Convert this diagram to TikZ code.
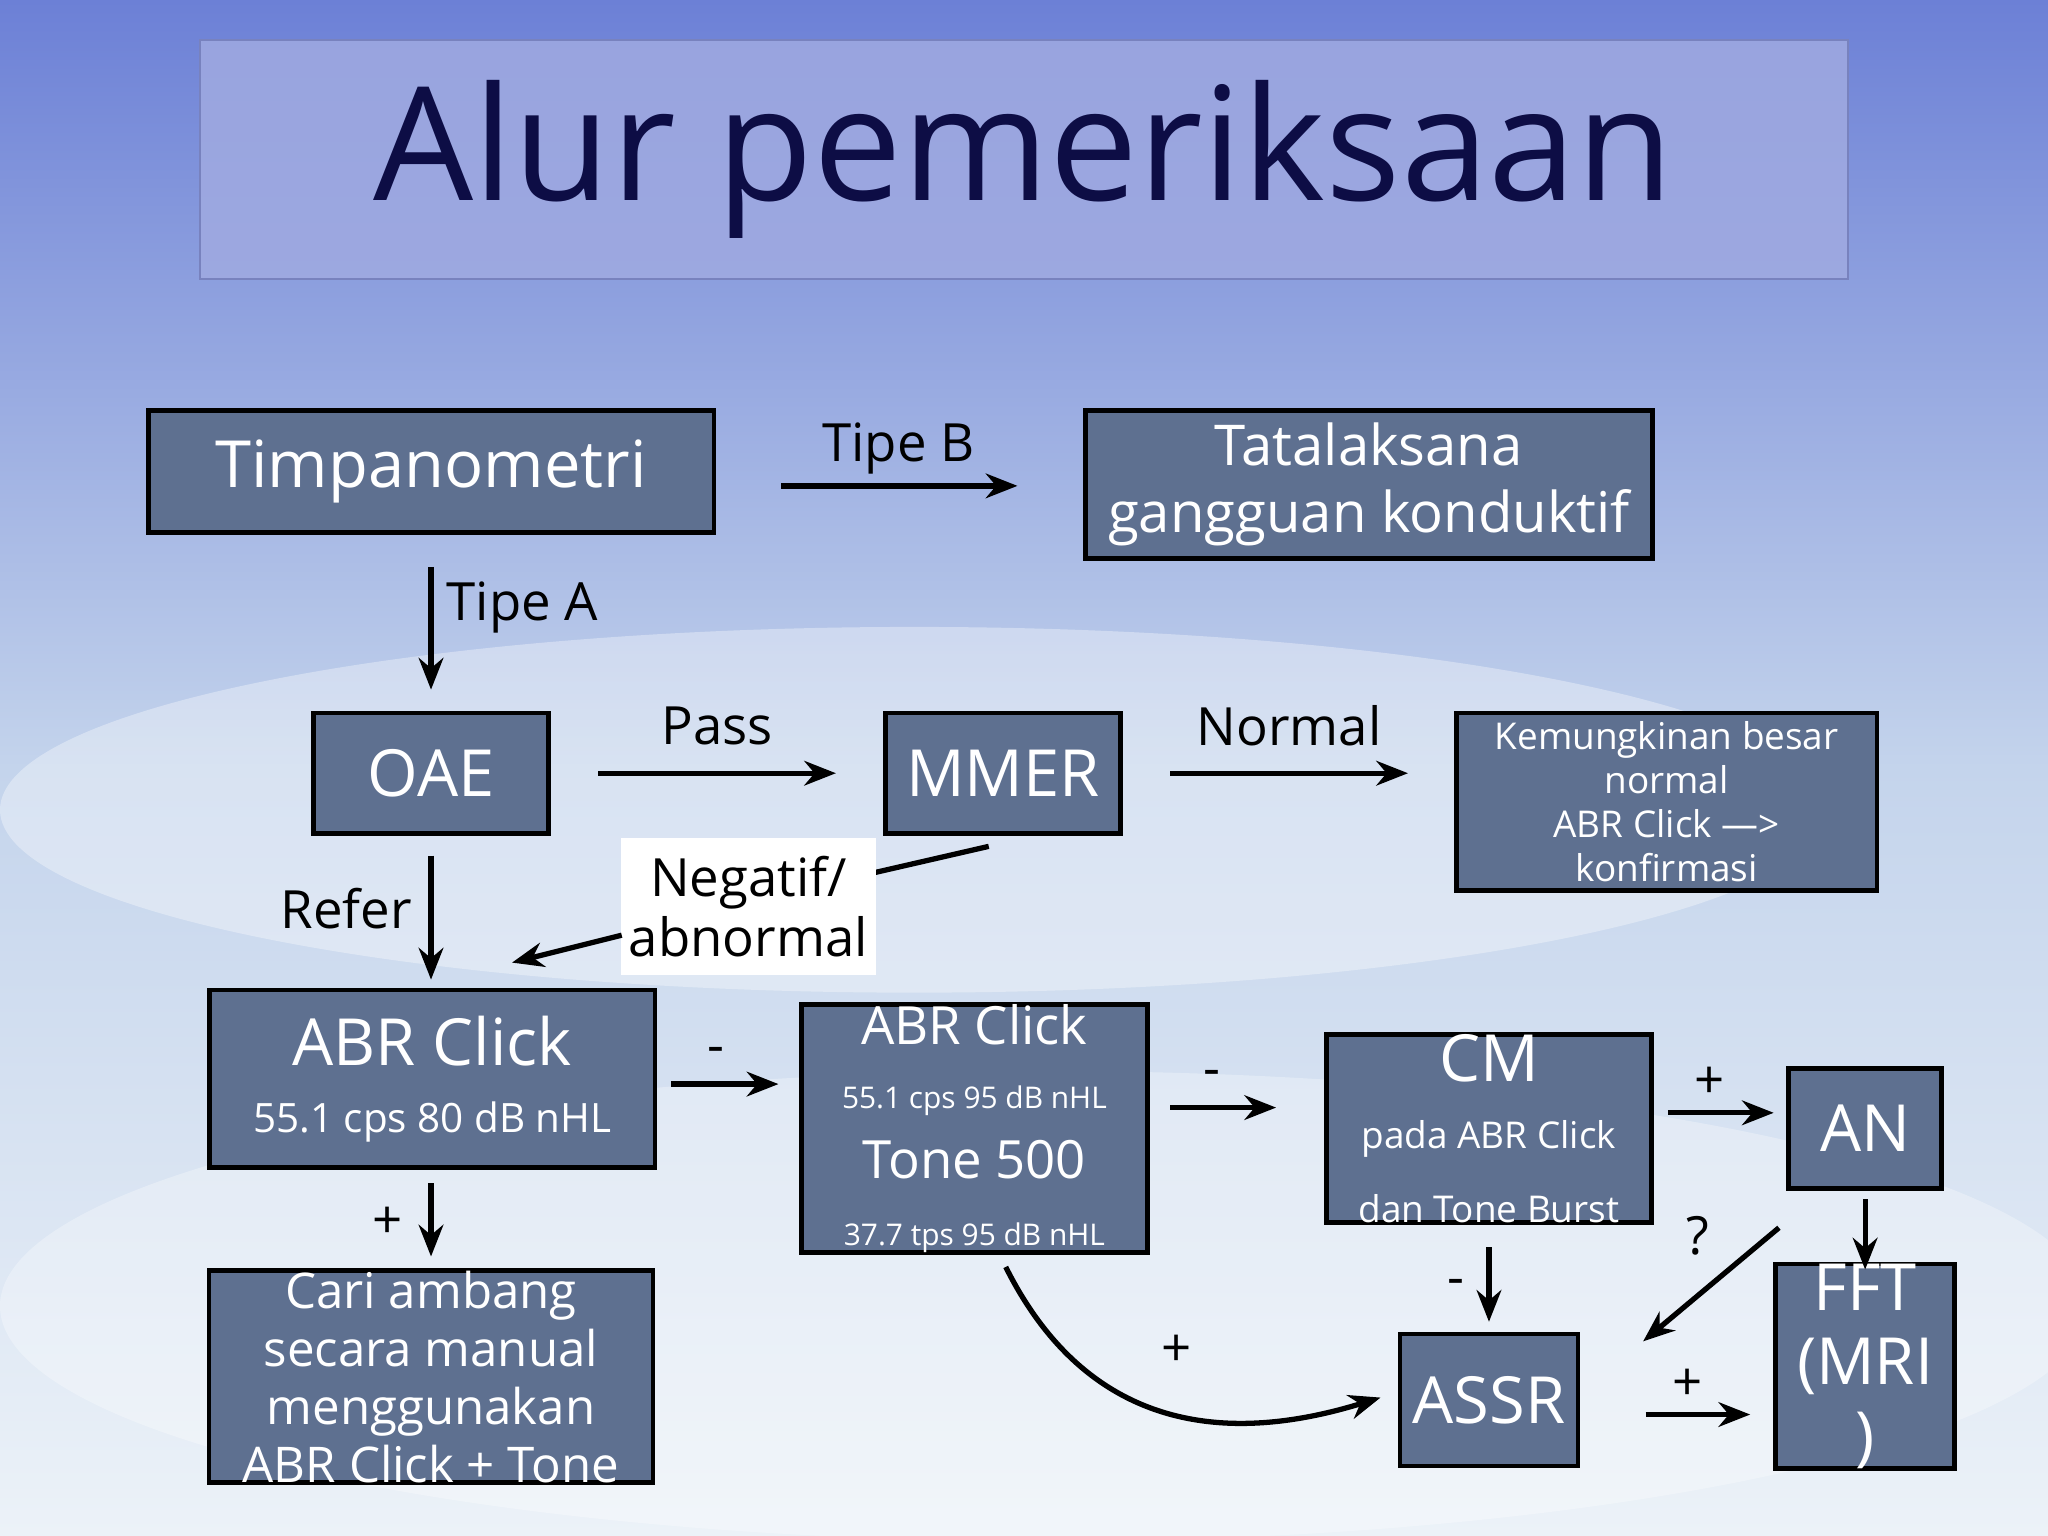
\documentclass[tikz,border=0pt]{standalone}
\usepackage{fontspec}
\setmainfont{Open Sans}
\usetikzlibrary{arrows.meta}
\definecolor{boxc}{HTML}{5E7090}
\definecolor{titc}{HTML}{0D0D45}
\tikzset{
 bx/.style={draw=black,line width=1.3pt,fill=boxc,text=white,align=center,inner sep=0pt,font=\fontsize{18.5}{21}\selectfont},
 bw/.style 2 args={minimum width=#1*0.01306cm,minimum height=#2*0.01306cm},
 ar/.style={-{Stealth[length=9pt,width=7pt]},line width=1.5pt},
 lb/.style={font=\fontsize{15}{17}\selectfont,text=black},
}
\begin{document}
\begin{tikzpicture}[x=0.01306cm,y=-0.01306cm]
\useasboundingbox (0,0) rectangle (1568,1176);
\shade[top color={rgb,255:red,108;green,128;blue,214},bottom color={rgb,255:red,236;green,242;blue,248},middle color={rgb,255:red,196;green,212;blue,236}] (0,0) rectangle (1568,1176);
\fill[white,opacity=0.35] (700,620) ellipse (700 and 140);
\fill[white,opacity=0.3] (800,1000) ellipse (800 and 180);
\node[draw={rgb,255:red,120;green,130;blue,190},fill={rgb,255:red,160;green,170;blue,225},fill opacity=0.85,text opacity=1,bw={1262}{183},text=titc,font=\fontsize{45}{50}\selectfont] (title) at (784,122) {Alur pemeriksaan};
\node[bx,bw={433}{93}] (timp) at (330,361) {Timpanometri};
\node[bx,bw={434}{113},font=\fontsize{16}{19}\selectfont] (tata) at (1048,371) {Tatalaksana\\gangguan konduktif};
\node[bx,bw={180}{92}] (oae) at (330,592) {OAE};
\node[bx,bw={180}{92}] (mmer) at (768,592) {MMER};
\node[bx,bw={322}{136},font=\fontsize{10.5}{12.5}\selectfont] (kem) at (1276,614) {Kemungkinan besar\\normal\\ABR Click —>\\konfirmasi};
\node[bx,bw={341}{136}] (abr1) at (331,826) {ABR Click\\[-2pt]{\fontsize{11.5}{14}\selectfont 55.1 cps 80 dB nHL}};
\node[bx,bw={265}{180}] (abr2) at (746,864) {{\fontsize{15}{17}\selectfont ABR Click}\\[-3pt]{\fontsize{8.5}{11}\selectfont 55.1 cps 95 dB nHL}\\[-1pt]{\fontsize{15}{17}\selectfont Tone 500}\\[-2pt]{\fontsize{8.5}{11}\selectfont 37.7 tps 95 dB nHL}};
\node[bx,bw={249}{136}] (cm) at (1140,864) {CM\\[-2pt]{\fontsize{10.5}{12.5}\selectfont pada ABR Click}\\{\fontsize{10.5}{12.5}\selectfont dan Tone Burst}};
\node[bx,bw={117}{92}] (an) at (1428,864) {AN};
\node[bx,bw={340}{151},font=\fontsize{14}{16.5}\selectfont] (cari) at (330,1054) {Cari ambang\\secara manual\\menggunakan\\ABR Click + Tone};
\node[bx,bw={136}{101}] (assr) at (1140,1072) {ASSR};
\node[bx,bw={137}{136}] (fft) at (1428,1046) {FFT\\(MRI\\)};
\coordinate (a1) at (598,372); \coordinate (a2) at (779,372);
\draw[ar] (a1) -- (a2); \node[lb] (l1) at (688,343) {Tipe B};
\coordinate (b1) at (330,434); \coordinate (b2) at (330,528);
\draw[ar] (b1) -- (b2); \node[lb] (l2) at (400,465) {Tipe A};
\coordinate (c1) at (458,592); \coordinate (c2) at (640,592);
\draw[ar] (c1) -- (c2); \node[lb] (l3) at (549,556) {Pass};
\coordinate (d1) at (896,592); \coordinate (d2) at (1078,592);
\draw[ar] (d1) -- (d2); \node[lb] (l4) at (987,556) {Normal};
\coordinate (e1) at (330,655); \coordinate (e2) at (330,750);
\draw[ar] (e1) -- (e2); \node[lb] (l5) at (265,696) {Refer};
\coordinate (f1) at (757,648); \coordinate (f2) at (670,668);
\draw[line width=1.5pt] (f1) -- (f2);
\node[fill=white,lb,align=center,inner sep=0pt,bw={195}{105}] (neg) at (573,694) {Negatif/\\abnormal};
\coordinate (g1) at (476,716); \coordinate (g2) at (392,737);
\draw[ar] (g1) -- (g2);
\coordinate (h1) at (514,830); \coordinate (h2) at (596,830);
\draw[ar] (h1) -- (h2); \node[lb] (l6) at (548,808) {-};
\coordinate (i1) at (896,848); \coordinate (i2) at (977,848);
\draw[ar] (i1) -- (i2); \node[lb] (l7) at (928,826) {-};
\coordinate (j1) at (1277,852); \coordinate (j2) at (1358,852);
\draw[ar] (j1) -- (j2); \node[lb] (l8) at (1309,829) {+};
\coordinate (k1) at (330,906); \coordinate (k2) at (330,962);
\draw[ar] (k1) -- (k2); \node[lb] (l9) at (297,936) {+};
\coordinate (m1) at (1428,918); \coordinate (m2) at (1428,972);
\draw[ar] (m1) -- (m2);
\coordinate (n1) at (1362,940); \coordinate (n2) at (1258,1027);
\draw[ar] (n1) -- (n2); \node[lb] (l10) at (1300,946) {?};
\coordinate (o1) at (1140,955); \coordinate (o2) at (1140,1012);
\draw[ar] (o1) -- (o2); \node[lb] (l11) at (1115,986) {-};
\coordinate (p1) at (1260,1083); \coordinate (p2) at (1340,1083);
\draw[ar] (p1) -- (p2); \node[lb] (l12) at (1292,1060) {+};
\coordinate (q1) at (770,970); \coordinate (q2) at (1057,1070);
\draw[ar] (q1) .. controls (840,1110) and (960,1100) .. (q2);
\node[lb] (l13) at (901,1034) {+};
\end{tikzpicture}
\end{document}
